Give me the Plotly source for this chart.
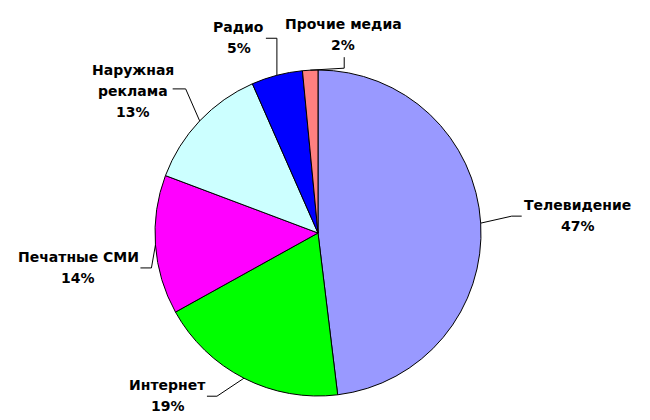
"""Структура рекламного рынка по медиа (круговая диаграмма, plotly)."""
import math

import plotly.graph_objects as go

# данные: значения в %, как подписаны на диаграмме (сумма < 100, круг делится по их сумме)
media = ["Телевидение", "Интернет", "Печатные СМИ", "Наружная<br>реклама", "Радио", "Прочие медиа"]
values = [47.4, 18.6, 13.6, 12.5, 5.0, 1.5]
colors = ["#9999FF", "#00FF00", "#FF00FF", "#CCFFFF", "#0000FF", "#FF8080"]

W, H = 650, 420
CX, CY, R = 310, 225, 163  # центр и радиус круга, px (страница сдвигает всё на 8px)
LINE = 21  # межстрочный шаг подписей, px

# подписи: смещения (px) от точки на краю сектора — центр текста, излом выноски, конец выноски
label_style = [
    {"text": (97, -8), "knee": (31, -7), "end": (41, -7)},
    {"text": (-76, 17), "knee": (-27, 18), "end": (-37, 18)},
    {"text": (-77, 23), "knee": (-4, 23), "end": (-15, 23)},
    {"text": (-67, -30), "knee": (-14, -32), "end": (-27, -32)},
    {"text": (-38, -38), "knee": (0, -37), "end": (-11, -37)},
    {"text": (33, -36), "knee": (34, -2), "end": (34, -13)},
]


def px(x, y):
    return x / W, 1 - y / H


fig = go.Figure(go.Pie(
    labels=[m.replace("<br>", " ") for m in media],
    values=values,
    sort=False,
    direction="clockwise",
    rotation=0,
    textinfo="none",
    hoverinfo="label+value",
    marker={"colors": colors, "line": {"color": "#000000", "width": 1}},
    domain={"x": [(CX - R) / W, (CX + R) / W], "y": [1 - (CY + R) / H, 1 - (CY - R) / H]},
    showlegend=False,
))

total = sum(values)
cum = 0
for name, val, st in zip(media, values, label_style):
    mid = (cum + val / 2) / total * 2 * math.pi
    cum += val
    ex, ey = CX + R * math.sin(mid), CY - R * math.cos(mid)
    pts = [(ex, ey), (ex + st["knee"][0], ey + st["knee"][1]), (ex + st["end"][0], ey + st["end"][1])]
    path = "M " + " L ".join(f"{px(x, y)[0]:.5f},{px(x, y)[1]:.5f}" for x, y in pts)
    fig.add_shape(type="path", path=path, xref="paper", yref="paper",
                  line={"color": "#000000", "width": 1})

    lines = name.split("<br>") + [f"{int(val + 0.5)}%"]
    tx, ty = ex + st["text"][0], ey + st["text"][1]
    for i, s in enumerate(lines):
        ax, ay = px(tx, ty + (i - (len(lines) - 1) / 2) * LINE)
        fig.add_annotation(
            x=ax, y=ay, xref="paper", yref="paper",
            text=s, showarrow=False,
            xanchor="center", yanchor="middle",
            font={"family": "DejaVu Sans", "size": 14, "color": "#000000", "weight": "bold"},
        )

fig.update_layout(
    width=W, height=H,
    margin={"l": 0, "r": 0, "t": 0, "b": 0},
    paper_bgcolor="#FFFFFF",
    plot_bgcolor="#FFFFFF",
)
fig.write_html("out.html")
